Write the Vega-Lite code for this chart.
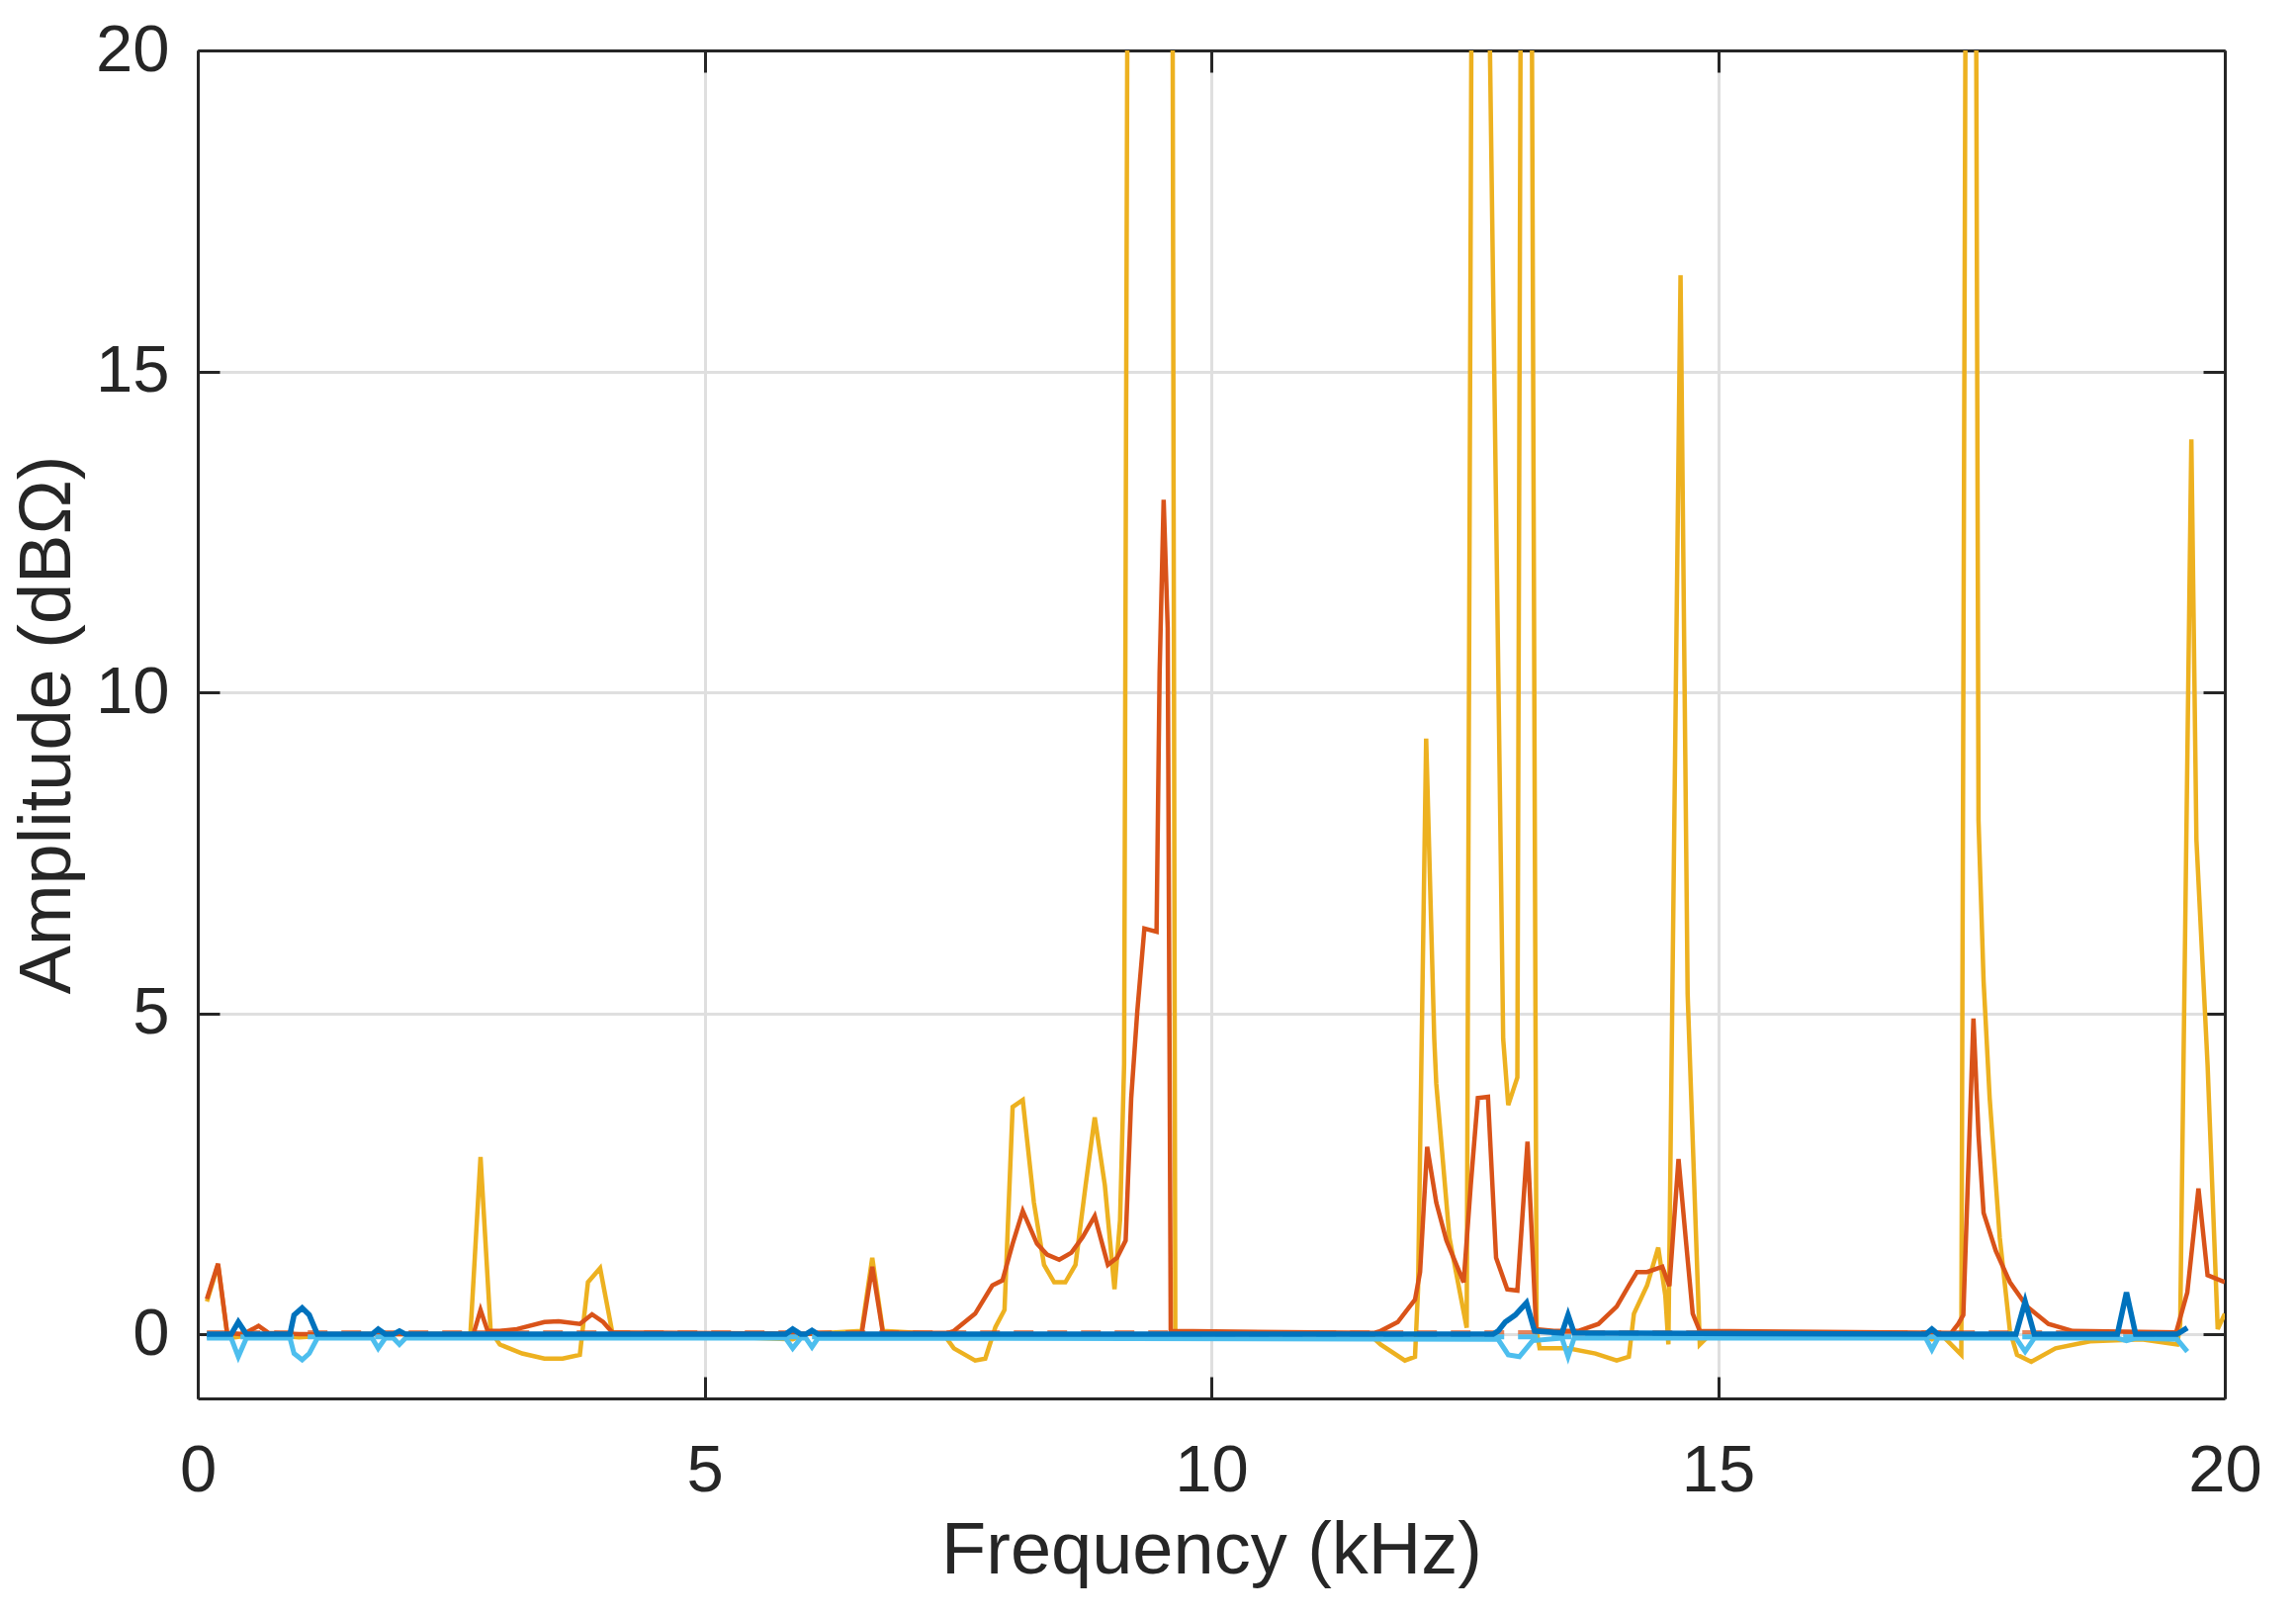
{
  "$schema": "https://vega.github.io/schema/vega-lite/v6.json",
  "width": 2050,
  "height": 1363,
  "autosize": "none",
  "padding": {"left": 200, "top": 51, "right": 72, "bottom": 220},
  "background": "white",
  "config": {
    "view": {"stroke": null},
    "axis": {
      "labelFont": "Liberation Sans",
      "titleFont": "Liberation Sans",
      "labelColor": "#262626",
      "titleColor": "#262626",
      "labelFontSize": 67,
      "titleFontSize": 74,
      "titleFontWeight": "normal",
      "labelFlush": false,
      "labelOverlap": false,
      "domainColor": "#262626",
      "domainWidth": 3,
      "tickColor": "#262626",
      "tickWidth": 3,
      "tickSize": -22,
      "gridColor": "#dfdfdf",
      "gridWidth": 3
    }
  },
  "data": {
    "values": [
      {"s": "Y", "f": 0.09, "a": 0.51}, {"s": "Y", "f": 0.2, "a": 1.08}, {"s": "Y", "f": 0.29, "a": 0.0},
      {"s": "Y", "f": 0.35, "a": -0.05}, {"s": "Y", "f": 0.6, "a": 0.0}, {"s": "Y", "f": 1.0, "a": -0.05},
      {"s": "Y", "f": 1.5, "a": 0.0}, {"s": "Y", "f": 2.69, "a": 0.0}, {"s": "Y", "f": 2.79, "a": 2.76},
      {"s": "Y", "f": 2.89, "a": 0.05}, {"s": "Y", "f": 2.98, "a": -0.16}, {"s": "Y", "f": 3.2, "a": -0.3},
      {"s": "Y", "f": 3.42, "a": -0.38}, {"s": "Y", "f": 3.6, "a": -0.38}, {"s": "Y", "f": 3.77, "a": -0.32},
      {"s": "Y", "f": 3.85, "a": 0.81}, {"s": "Y", "f": 3.97, "a": 1.03}, {"s": "Y", "f": 4.09, "a": 0.03},
      {"s": "Y", "f": 5.87, "a": -0.08}, {"s": "Y", "f": 6.0, "a": 0.0}, {"s": "Y", "f": 6.55, "a": 0.05},
      {"s": "Y", "f": 6.655, "a": 1.19}, {"s": "Y", "f": 6.76, "a": 0.05}, {"s": "Y", "f": 7.36, "a": 0.0},
      {"s": "Y", "f": 7.46, "a": -0.22}, {"s": "Y", "f": 7.67, "a": -0.41}, {"s": "Y", "f": 7.77, "a": -0.38},
      {"s": "Y", "f": 7.87, "a": 0.11}, {"s": "Y", "f": 7.96, "a": 0.38}, {"s": "Y", "f": 8.04, "a": 3.54},
      {"s": "Y", "f": 8.14, "a": 3.65}, {"s": "Y", "f": 8.25, "a": 2.05}, {"s": "Y", "f": 8.35, "a": 1.08},
      {"s": "Y", "f": 8.45, "a": 0.81}, {"s": "Y", "f": 8.56, "a": 0.81}, {"s": "Y", "f": 8.66, "a": 1.08},
      {"s": "Y", "f": 8.76, "a": 2.32}, {"s": "Y", "f": 8.85, "a": 3.38}, {"s": "Y", "f": 8.95, "a": 2.32},
      {"s": "Y", "f": 9.045, "a": 0.7}, {"s": "Y", "f": 9.1, "a": 1.78}, {"s": "Y", "f": 9.14, "a": 4.2},
      {"s": "Y", "f": 9.2, "a": 35}, {"s": "Y", "f": 9.4, "a": 40}, {"s": "Y", "f": 9.6, "a": 35},
      {"s": "Y", "f": 9.645, "a": 0.05}, {"s": "Y", "f": 9.8, "a": 0.0}, {"s": "Y", "f": 11.56, "a": 0.0},
      {"s": "Y", "f": 11.67, "a": -0.16}, {"s": "Y", "f": 11.91, "a": -0.41}, {"s": "Y", "f": 12.01, "a": -0.35},
      {"s": "Y", "f": 12.04, "a": 0.7}, {"s": "Y", "f": 12.12, "a": 9.28}, {"s": "Y", "f": 12.2, "a": 4.6},
      {"s": "Y", "f": 12.22, "a": 3.9}, {"s": "Y", "f": 12.35, "a": 1.5}, {"s": "Y", "f": 12.52, "a": 0.1},
      {"s": "Y", "f": 12.6, "a": 35}, {"s": "Y", "f": 12.62, "a": 35.3}, {"s": "Y", "f": 12.88, "a": 4.6},
      {"s": "Y", "f": 12.93, "a": 3.57}, {"s": "Y", "f": 13.02, "a": 4.0}, {"s": "Y", "f": 13.08, "a": 35},
      {"s": "Y", "f": 13.13, "a": 35}, {"s": "Y", "f": 13.21, "a": 0.05}, {"s": "Y", "f": 13.24, "a": -0.22},
      {"s": "Y", "f": 13.52, "a": -0.22}, {"s": "Y", "f": 13.79, "a": -0.3}, {"s": "Y", "f": 14.0, "a": -0.41},
      {"s": "Y", "f": 14.12, "a": -0.35}, {"s": "Y", "f": 14.17, "a": 0.32}, {"s": "Y", "f": 14.3, "a": 0.76},
      {"s": "Y", "f": 14.41, "a": 1.35}, {"s": "Y", "f": 14.48, "a": 0.6}, {"s": "Y", "f": 14.51, "a": -0.16},
      {"s": "Y", "f": 14.63, "a": 16.5}, {"s": "Y", "f": 14.7, "a": 5.3}, {"s": "Y", "f": 14.82, "a": -0.16},
      {"s": "Y", "f": 14.89, "a": -0.05}, {"s": "Y", "f": 15.5, "a": 0.0}, {"s": "Y", "f": 17.0, "a": 0.0},
      {"s": "Y", "f": 17.11, "a": -0.08}, {"s": "Y", "f": 17.2, "a": 0.0}, {"s": "Y", "f": 17.4, "a": -0.32},
      {"s": "Y", "f": 17.47, "a": 35}, {"s": "Y", "f": 17.52, "a": 35}, {"s": "Y", "f": 17.57, "a": 8},
      {"s": "Y", "f": 17.62, "a": 5.5}, {"s": "Y", "f": 17.68, "a": 3.68}, {"s": "Y", "f": 17.78, "a": 1.5},
      {"s": "Y", "f": 17.88, "a": 0.05}, {"s": "Y", "f": 17.95, "a": -0.32}, {"s": "Y", "f": 18.09, "a": -0.43},
      {"s": "Y", "f": 18.33, "a": -0.22}, {"s": "Y", "f": 18.67, "a": -0.11}, {"s": "Y", "f": 19.18, "a": -0.08},
      {"s": "Y", "f": 19.53, "a": -0.16}, {"s": "Y", "f": 19.56, "a": 0.16}, {"s": "Y", "f": 19.67, "a": 13.94},
      {"s": "Y", "f": 19.72, "a": 7.7}, {"s": "Y", "f": 19.83, "a": 4.2}, {"s": "Y", "f": 19.93, "a": 0.08},
      {"s": "Y", "f": 20.0, "a": 0.32},

      {"s": "R", "f": 0.09, "a": 0.55}, {"s": "R", "f": 0.2, "a": 1.1}, {"s": "R", "f": 0.29, "a": 0.02},
      {"s": "R", "f": 0.45, "a": 0.0}, {"s": "R", "f": 0.6, "a": 0.13}, {"s": "R", "f": 0.7, "a": 0.02},
      {"s": "R", "f": 1.0, "a": 0.0}, {"s": "R", "f": 2.72, "a": 0.0}, {"s": "R", "f": 2.79, "a": 0.38},
      {"s": "R", "f": 2.86, "a": 0.05}, {"s": "R", "f": 2.98, "a": 0.05}, {"s": "R", "f": 3.15, "a": 0.08},
      {"s": "R", "f": 3.42, "a": 0.19}, {"s": "R", "f": 3.56, "a": 0.2}, {"s": "R", "f": 3.77, "a": 0.16},
      {"s": "R", "f": 3.89, "a": 0.31}, {"s": "R", "f": 4.0, "a": 0.19}, {"s": "R", "f": 4.09, "a": 0.03},
      {"s": "R", "f": 6.55, "a": 0.0}, {"s": "R", "f": 6.655, "a": 1.05}, {"s": "R", "f": 6.76, "a": 0.02},
      {"s": "R", "f": 7.4, "a": 0.02}, {"s": "R", "f": 7.46, "a": 0.05}, {"s": "R", "f": 7.67, "a": 0.32},
      {"s": "R", "f": 7.84, "a": 0.76}, {"s": "R", "f": 7.94, "a": 0.84}, {"s": "R", "f": 8.04, "a": 1.41},
      {"s": "R", "f": 8.14, "a": 1.92}, {"s": "R", "f": 8.28, "a": 1.41}, {"s": "R", "f": 8.38, "a": 1.24},
      {"s": "R", "f": 8.5, "a": 1.16}, {"s": "R", "f": 8.62, "a": 1.27}, {"s": "R", "f": 8.73, "a": 1.51},
      {"s": "R", "f": 8.85, "a": 1.84}, {"s": "R", "f": 8.98, "a": 1.08}, {"s": "R", "f": 9.07, "a": 1.19},
      {"s": "R", "f": 9.155, "a": 1.46}, {"s": "R", "f": 9.21, "a": 3.68}, {"s": "R", "f": 9.27, "a": 5.03},
      {"s": "R", "f": 9.34, "a": 6.32}, {"s": "R", "f": 9.46, "a": 6.27}, {"s": "R", "f": 9.49, "a": 10.3},
      {"s": "R", "f": 9.53, "a": 13.0}, {"s": "R", "f": 9.57, "a": 11.0}, {"s": "R", "f": 9.6, "a": 0.05},
      {"s": "R", "f": 11.6, "a": 0.02}, {"s": "R", "f": 11.67, "a": 0.05}, {"s": "R", "f": 11.84, "a": 0.19},
      {"s": "R", "f": 12.01, "a": 0.54}, {"s": "R", "f": 12.06, "a": 0.97}, {"s": "R", "f": 12.13, "a": 2.92},
      {"s": "R", "f": 12.22, "a": 2.05}, {"s": "R", "f": 12.32, "a": 1.46}, {"s": "R", "f": 12.49, "a": 0.81},
      {"s": "R", "f": 12.56, "a": 2.32}, {"s": "R", "f": 12.63, "a": 3.68}, {"s": "R", "f": 12.73, "a": 3.7},
      {"s": "R", "f": 12.81, "a": 1.19}, {"s": "R", "f": 12.92, "a": 0.7}, {"s": "R", "f": 13.02, "a": 0.68},
      {"s": "R", "f": 13.12, "a": 3.0}, {"s": "R", "f": 13.205, "a": 0.08}, {"s": "R", "f": 13.38, "a": 0.05},
      {"s": "R", "f": 13.62, "a": 0.05}, {"s": "R", "f": 13.82, "a": 0.16}, {"s": "R", "f": 14.0, "a": 0.43},
      {"s": "R", "f": 14.12, "a": 0.76}, {"s": "R", "f": 14.2, "a": 0.97}, {"s": "R", "f": 14.3, "a": 0.97},
      {"s": "R", "f": 14.45, "a": 1.05}, {"s": "R", "f": 14.52, "a": 0.75}, {"s": "R", "f": 14.61, "a": 2.73},
      {"s": "R", "f": 14.68, "a": 1.51}, {"s": "R", "f": 14.75, "a": 0.32}, {"s": "R", "f": 14.82, "a": 0.05},
      {"s": "R", "f": 17.3, "a": 0.02}, {"s": "R", "f": 17.37, "a": 0.16}, {"s": "R", "f": 17.42, "a": 0.3},
      {"s": "R", "f": 17.52, "a": 4.92}, {"s": "R", "f": 17.57, "a": 3.1}, {"s": "R", "f": 17.62, "a": 1.89},
      {"s": "R", "f": 17.74, "a": 1.3}, {"s": "R", "f": 17.88, "a": 0.81}, {"s": "R", "f": 18.05, "a": 0.43},
      {"s": "R", "f": 18.26, "a": 0.16}, {"s": "R", "f": 18.5, "a": 0.05}, {"s": "R", "f": 19.52, "a": 0.03},
      {"s": "R", "f": 19.63, "a": 0.65}, {"s": "R", "f": 19.74, "a": 2.27}, {"s": "R", "f": 19.83, "a": 0.92},
      {"s": "R", "f": 20.0, "a": 0.81},

      {"s": "RD", "f": 0.09, "a": 0.03}, {"s": "RD", "f": 19.63, "a": 0.03},
      {"s": "LD", "f": 0.09, "a": -0.04}, {"s": "LD", "f": 19.63, "a": -0.04},

      {"s": "L", "f": 0.09, "a": -0.06}, {"s": "L", "f": 0.33, "a": -0.06}, {"s": "L", "f": 0.4, "a": -0.35},
      {"s": "L", "f": 0.48, "a": -0.06}, {"s": "L", "f": 0.91, "a": -0.06}, {"s": "L", "f": 0.95, "a": -0.3},
      {"s": "L", "f": 1.03, "a": -0.4}, {"s": "L", "f": 1.1, "a": -0.3}, {"s": "L", "f": 1.18, "a": -0.06},
      {"s": "L", "f": 1.72, "a": -0.06}, {"s": "L", "f": 1.78, "a": -0.22}, {"s": "L", "f": 1.85, "a": -0.06},
      {"s": "L", "f": 1.93, "a": -0.06}, {"s": "L", "f": 1.99, "a": -0.16}, {"s": "L", "f": 2.05, "a": -0.06},
      {"s": "L", "f": 5.8, "a": -0.06}, {"s": "L", "f": 5.87, "a": -0.22}, {"s": "L", "f": 5.95, "a": -0.06},
      {"s": "L", "f": 6.0, "a": -0.06}, {"s": "L", "f": 6.06, "a": -0.2}, {"s": "L", "f": 6.12, "a": -0.06},
      {"s": "L", "f": 12.83, "a": -0.08}, {"s": "L", "f": 12.93, "a": -0.32}, {"s": "L", "f": 13.04, "a": -0.35},
      {"s": "L", "f": 13.17, "a": -0.1}, {"s": "L", "f": 13.46, "a": -0.06}, {"s": "L", "f": 13.52, "a": -0.35},
      {"s": "L", "f": 13.58, "a": -0.06}, {"s": "L", "f": 17.05, "a": -0.06}, {"s": "L", "f": 17.11, "a": -0.24},
      {"s": "L", "f": 17.17, "a": -0.06}, {"s": "L", "f": 17.94, "a": -0.06}, {"s": "L", "f": 18.03, "a": -0.27},
      {"s": "L", "f": 18.12, "a": -0.06}, {"s": "L", "f": 18.94, "a": -0.06}, {"s": "L", "f": 19.03, "a": -0.1},
      {"s": "L", "f": 19.12, "a": -0.06}, {"s": "L", "f": 19.53, "a": -0.08}, {"s": "L", "f": 19.63, "a": -0.27},

      {"s": "B", "f": 0.09, "a": 0.0}, {"s": "B", "f": 0.33, "a": 0.0}, {"s": "B", "f": 0.4, "a": 0.19},
      {"s": "B", "f": 0.48, "a": 0.0}, {"s": "B", "f": 0.91, "a": 0.0}, {"s": "B", "f": 0.95, "a": 0.3},
      {"s": "B", "f": 1.03, "a": 0.41}, {"s": "B", "f": 1.1, "a": 0.3}, {"s": "B", "f": 1.18, "a": 0.0},
      {"s": "B", "f": 1.72, "a": 0.0}, {"s": "B", "f": 1.78, "a": 0.08}, {"s": "B", "f": 1.85, "a": 0.0},
      {"s": "B", "f": 1.93, "a": 0.0}, {"s": "B", "f": 1.99, "a": 0.05}, {"s": "B", "f": 2.05, "a": 0.0},
      {"s": "B", "f": 5.8, "a": 0.0}, {"s": "B", "f": 5.87, "a": 0.08}, {"s": "B", "f": 5.95, "a": 0.0},
      {"s": "B", "f": 6.0, "a": 0.0}, {"s": "B", "f": 6.06, "a": 0.06}, {"s": "B", "f": 6.12, "a": 0.0},
      {"s": "B", "f": 12.78, "a": 0.0}, {"s": "B", "f": 12.83, "a": 0.05}, {"s": "B", "f": 12.9, "a": 0.19},
      {"s": "B", "f": 13.0, "a": 0.3}, {"s": "B", "f": 13.11, "a": 0.49}, {"s": "B", "f": 13.19, "a": 0.05},
      {"s": "B", "f": 13.46, "a": 0.02}, {"s": "B", "f": 13.52, "a": 0.3}, {"s": "B", "f": 13.58, "a": 0.02},
      {"s": "B", "f": 17.05, "a": 0.0}, {"s": "B", "f": 17.11, "a": 0.08}, {"s": "B", "f": 17.17, "a": 0.0},
      {"s": "B", "f": 17.94, "a": 0.0}, {"s": "B", "f": 18.03, "a": 0.51}, {"s": "B", "f": 18.12, "a": 0.0},
      {"s": "B", "f": 18.94, "a": 0.0}, {"s": "B", "f": 19.03, "a": 0.65}, {"s": "B", "f": 19.12, "a": 0.0},
      {"s": "B", "f": 19.53, "a": 0.0}, {"s": "B", "f": 19.63, "a": 0.1}
    ]
  },
  "encoding": {
    "x": {"field": "f", "type": "quantitative", "scale": {"domain": [0, 20], "nice": false, "zero": false}},
    "y": {"field": "a", "type": "quantitative", "scale": {"domain": [-1, 20], "nice": false, "zero": false}}
  },
  "layer": [
    {
      "transform": [{"filter": "datum.s === 'Y'"}],
      "mark": {"type": "line", "color": "#EDB120", "strokeWidth": 4.5, "clip": true},
      "encoding": {
        "x": {"field": "f", "type": "quantitative", "axis": {"orient": "bottom", "values": [0, 5, 10, 15, 20], "labelPadding": 62, "title": "Frequency (kHz)", "titlePadding": 12, "grid": true}},
        "y": {"field": "a", "type": "quantitative", "axis": {"orient": "left", "values": [0, 5, 10, 15, 20], "labelPadding": 51, "title": "Amplitude (dB\u03a9)", "titlePadding": 10, "grid": true}}
      }
    },
    {
      "transform": [{"filter": "datum.s === 'R'"}],
      "mark": {"type": "line", "color": "#D95319", "strokeWidth": 4.5, "clip": true},
      "encoding": {
        "x": {"field": "f", "type": "quantitative", "axis": {"orient": "top", "values": [0, 5, 10, 15, 20], "labels": false, "grid": false, "title": null}},
        "y": {"field": "a", "type": "quantitative", "axis": {"orient": "right", "values": [0, 5, 10, 15, 20], "labels": false, "grid": false, "title": null}}
      }
    },
    {
      "transform": [{"filter": "datum.s === 'RD'"}],
      "mark": {"type": "line", "color": "#D95319", "strokeWidth": 4.5, "strokeDash": [20, 14], "opacity": 0.7},
      "encoding": {
        "x": {"field": "f", "type": "quantitative", "axis": null},
        "y": {"field": "a", "type": "quantitative", "axis": null}
      }
    },
    {
      "transform": [{"filter": "datum.s === 'L'"}],
      "mark": {"type": "line", "color": "#4DBEEE", "strokeWidth": 5},
      "encoding": {
        "x": {"field": "f", "type": "quantitative", "axis": null},
        "y": {"field": "a", "type": "quantitative", "axis": null}
      }
    },
    {
      "transform": [{"filter": "datum.s === 'LD'"}],
      "mark": {"type": "line", "color": "#4DBEEE", "strokeWidth": 5, "strokeDash": [20, 14]},
      "encoding": {
        "x": {"field": "f", "type": "quantitative", "axis": null},
        "y": {"field": "a", "type": "quantitative", "axis": null}
      }
    },
    {
      "transform": [{"filter": "datum.s === 'B'"}],
      "mark": {"type": "line", "color": "#0072BD", "strokeWidth": 5.5},
      "encoding": {
        "x": {"field": "f", "type": "quantitative", "axis": null},
        "y": {"field": "a", "type": "quantitative", "axis": null}
      }
    }
  ],
  "resolve": {"axis": {"x": "independent", "y": "independent"}}
}
